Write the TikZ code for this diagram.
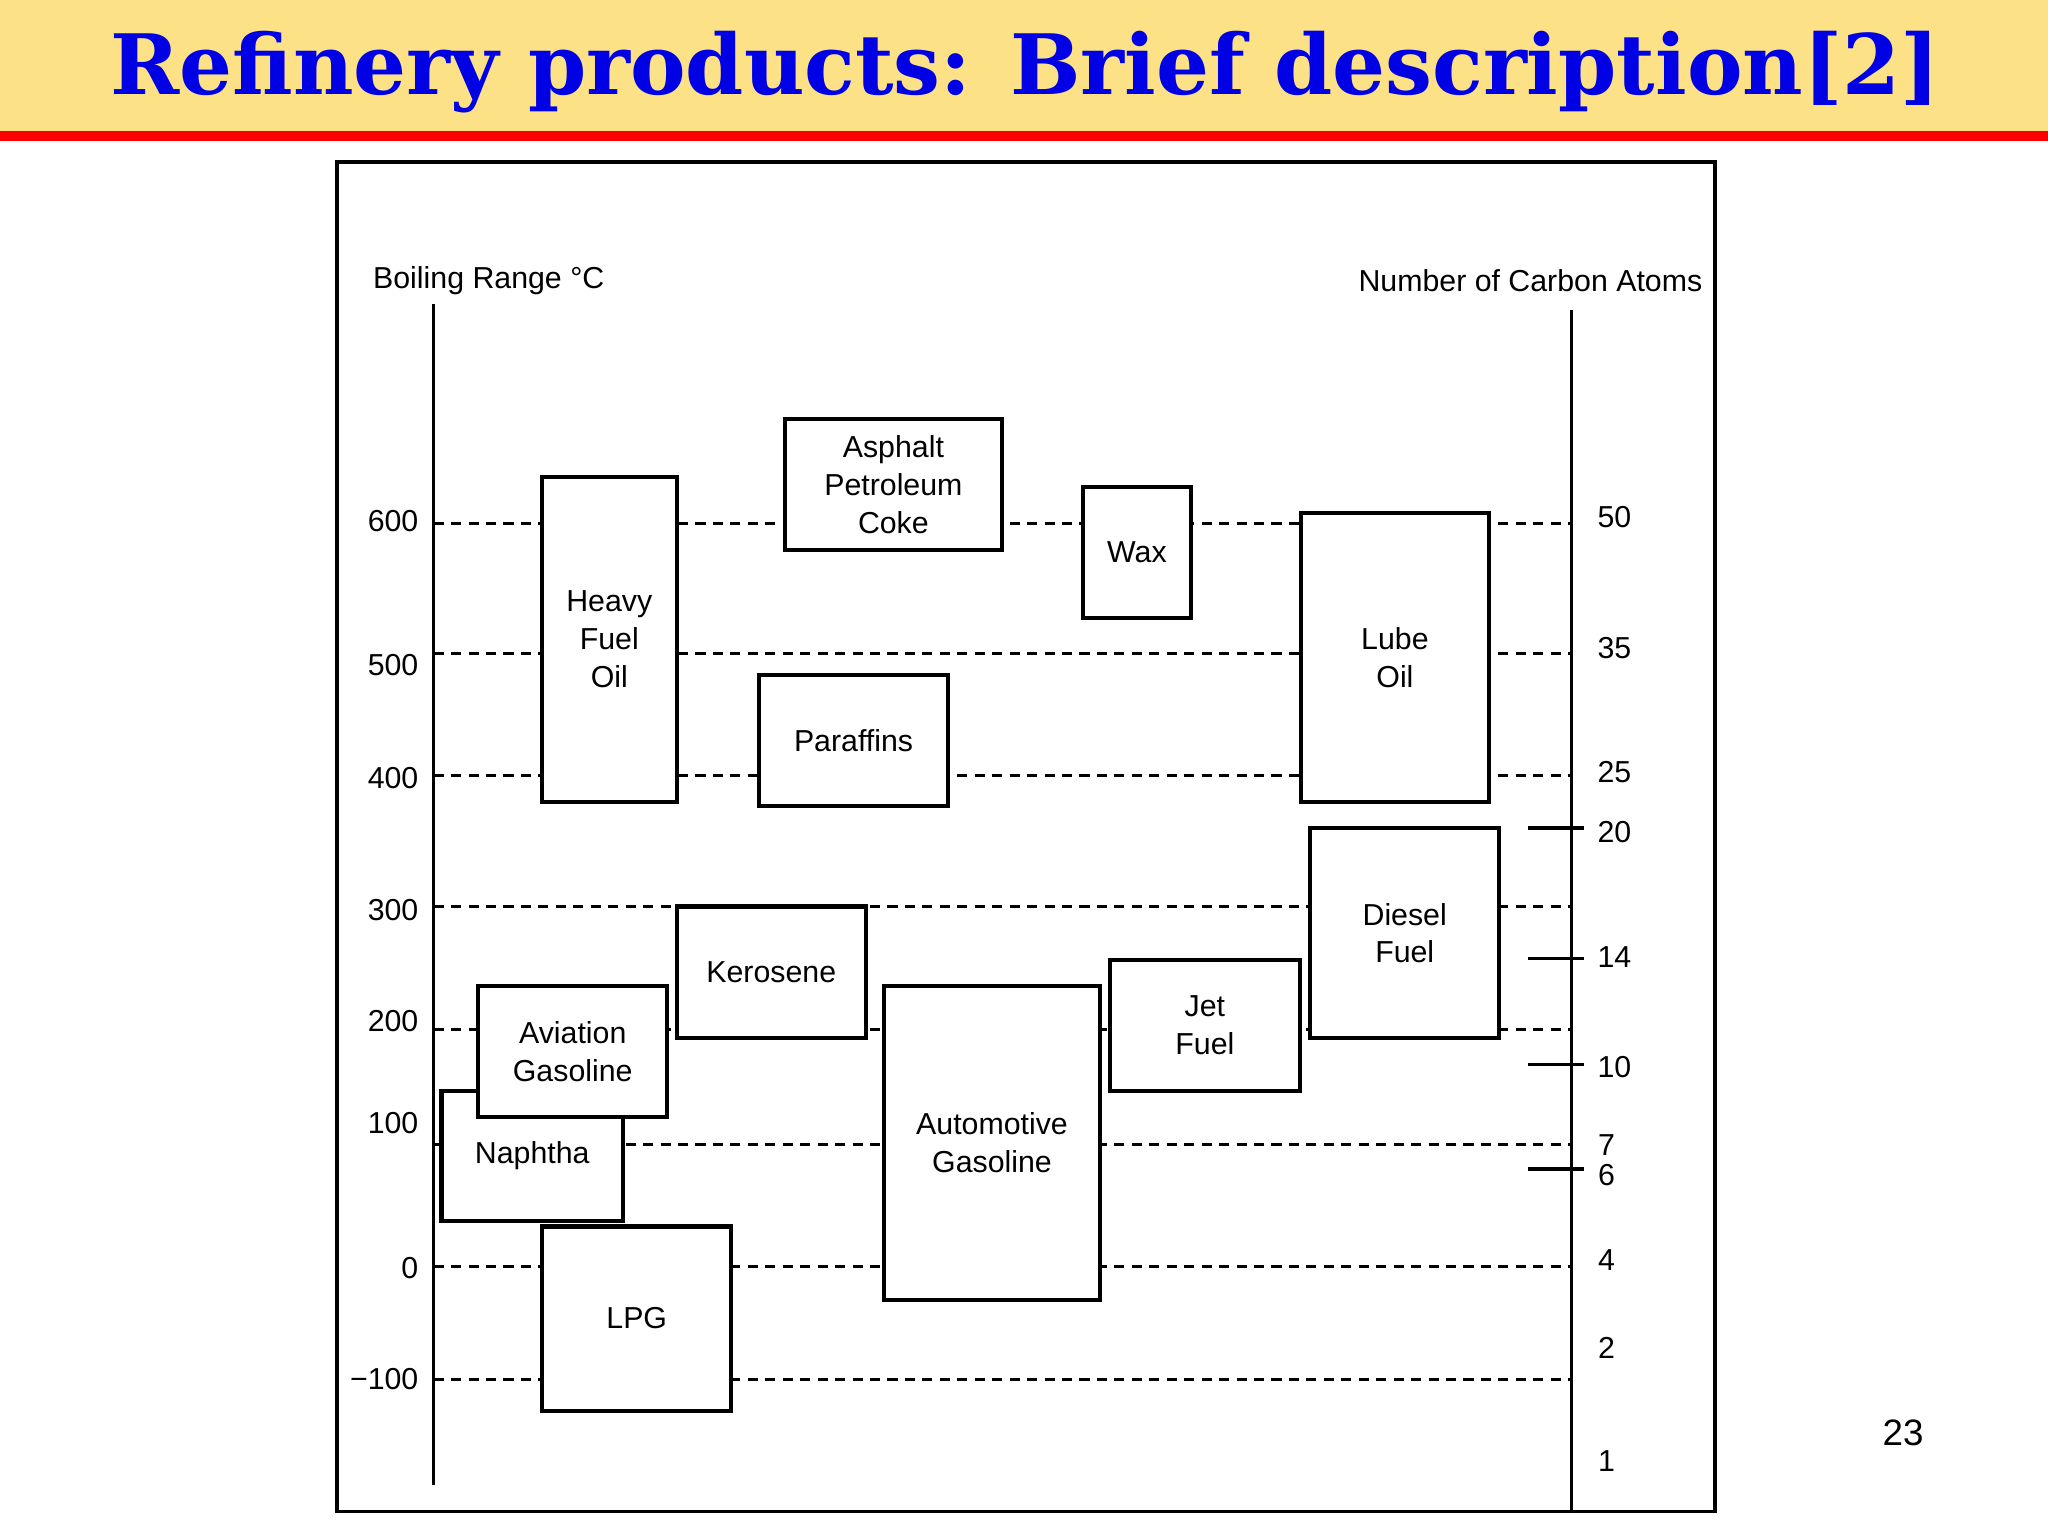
\documentclass[tikz,border=0pt]{standalone}
\usepackage{fontspec}
\setmainfont{Liberation Sans}
\newfontfamily\titlefont{DejaVu Serif}
\begin{document}
\begin{tikzpicture}[x=0.01cm,y=-0.01cm,
  bx/.style={draw,fill=white,line width=0.9pt,align=center,font=\fontsize{6.6pt}{8.2pt}\selectfont},
  dl/.style={dashed,line width=0.65pt,dash pattern=on 2.2pt off 1.6pt},
  lab/.style={font=\fontsize{6.6pt}{8pt}\selectfont,inner sep=0pt}]
\useasboundingbox (0,0) rectangle (1568,1176);
\fill[white] (0,0) rectangle (1568,1176);
\fill[yellow!55!orange!45] (0,0) rectangle (1568,100);
\fill[red] (0,100) rectangle (1568,108);
\node[inner sep=0pt,text=blue!90!black] (title) at (785,55) {\resizebox{14cm}{!}{\titlefont\bfseries Refinery products: Brief description[2]}};
\draw[line width=0.7pt] (258,124) rectangle (1313,1157);
\draw[line width=0.7pt] (332,233) -- (332,1137);
\draw[line width=0.7pt] (1203,237) -- (1203,1157);
\node[lab,anchor=west] (bl) at (285,215) {Boiling Range °C};
\node[lab,anchor=east] (nc) at (1304,215) {Number of Carbon Atoms};
\foreach \y/\t in {401/600,500/500,594/400,694/300,788/200,876/100,970/0,1056/−100}{
  \draw[dl] (332,\y) -- (1203,\y);
}
\foreach \y/\t in {399/600,509/500,596/400,697/300,782/200,860/100,971/0,1056/−100}{
  \node[lab,anchor=east] at (321,\y) {\t};
}
\foreach \y in {634,734,815,895}{\draw[line width=0.7pt] (1170,\y) -- (1213,\y);}
\foreach \y/\t in {396/50,496/35,591/25,637/20,733/14,817/10}{\node[lab] at (1236,\y) {\t};}
\foreach \y/\t in {877/7,900/6,965/4,1032/2,1119/1}{\node[lab] at (1230,\y) {\t};}
\newcommand{\bxx}[6]{\node[bx,minimum width=#3*0.01cm-#1*0.01cm,minimum height=#4*0.01cm-#2*0.01cm] (#5) at ({(#1+#3)/2},{(#2+#4)/2}) {#6};}
\bxx{415}{365}{518}{614}{hfo}{Heavy\\Fuel\\Oil}
\bxx{601}{321}{767}{421}{asp}{Asphalt\\Petroleum\\Coke}
\bxx{829}{373}{912}{473}{wax}{Wax}
\bxx{996}{393}{1140}{614}{lube}{Lube\\Oil}
\bxx{581}{517}{726}{617}{par}{Paraffins}
\bxx{1003}{634}{1148}{795}{dies}{Diesel\\Fuel}
\bxx{518}{694}{663}{795}{ker}{Kerosene}
\bxx{850}{735}{995}{835}{jet}{Jet\\Fuel}
\bxx{338}{835}{477}{935}{nap}{Naphtha}
\bxx{366}{755}{511}{855}{avg}{Aviation\\Gasoline}
\bxx{677}{755}{842}{995}{aut}{Automotive\\Gasoline}
\bxx{415}{939}{560}{1080}{lpg}{LPG}
\node[lab,font=\fontsize{8pt}{9pt}\selectfont] (pg) at (1457,1097) {23};
\end{tikzpicture}
\end{document}
